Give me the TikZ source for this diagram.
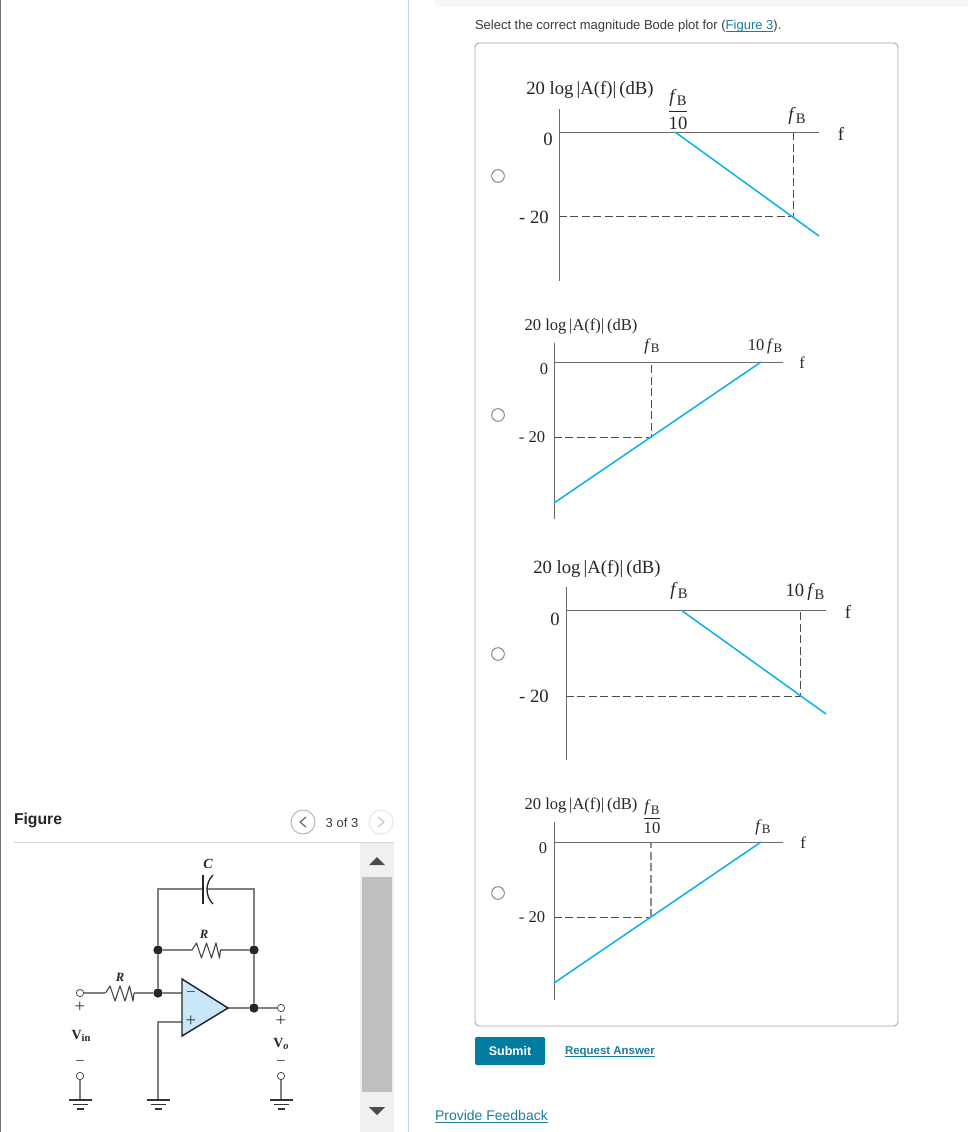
\documentclass[tikz,border=0pt]{standalone}
\usepackage{fontspec}
\setmainfont{Liberation Serif}
\newfontfamily\uifont{Liberation Sans}
\definecolor{linkc}{HTML}{1B7C9E}
\definecolor{btnc}{HTML}{007C9E}
\definecolor{curve}{HTML}{12B0EA}
\definecolor{axisc}{HTML}{6A6A6A}
\definecolor{wirec}{HTML}{808080}
\definecolor{uitext}{HTML}{3A3A3A}
\definecolor{opfill}{HTML}{C8E8FA}
\definecolor{sepc}{HTML}{C4D6E6}
\newcommand{\fsubB}{\textit{f}\raisebox{-0.35ex}{\scalebox{.78}{B}}}
\newcommand{\fracfB}{$\displaystyle\frac{\hbox{\fsubB}}{\hbox{10}}$}
\newcommand{\linktext}[1]{\underline{\smash{#1}}}
\tikzset{
  every node/.style={inner sep=0pt,outer sep=0pt},
  ui/.style={font=\uifont\fontsize{9.75}{11}\selectfont,text=uitext},
  big/.style={font=\fontsize{14}{16}\selectfont,text=black!85},
  small/.style={font=\fontsize{12.4}{14}\selectfont,text=black!85},
  axis/.style={draw=axisc,line width=0.75pt},
  dashline/.style={draw=black!70,line width=0.6pt,dash pattern=on 6pt off 2.6pt},
  bode/.style={draw=curve,line width=1.15pt},
  radio/.style={circle,draw=black!50,fill=white,line width=0.7pt,minimum size=9.5pt},
  wire/.style={draw=wirec,line width=0.9pt},
  dot/.style={circle,fill=black!85,minimum size=7pt},
  term/.style={circle,draw=black!70,fill=white,line width=0.6pt,minimum size=5.5pt},
  clab/.style={font=\fontsize{10.5}{12}\selectfont,text=black!85},
  sign/.style={font=\fontsize{14}{14}\selectfont,text=black!80},
  minus/.style={font=\fontsize{11.5}{12}\selectfont,text=black!80},
  res/.pic={\draw[draw=black!75,line width=0.8pt,line join=round] (-14,0) -- (-9.5,-7) -- (-4.5,8) -- (0.5,-7) -- (5.5,8) -- (10,-7) -- (13.5,8) -- (14.5,0);},
  gnd/.pic={\draw[draw=black!80,line width=1pt] (-11.5,0) -- (11.5,0) (-7.5,4.5) -- (7.5,4.5) (-3.5,9) -- (3.5,9);}
}
\begin{document}
\begin{tikzpicture}[x=0.75pt,y=-0.75pt]
\useasboundingbox (0,0) rectangle (968,1132);
\fill[white] (0,0) rectangle (968,1132);
% page furniture
\fill[black!55] (0,0) rectangle (1.3,1132);
\fill[black!3] (435,0) rectangle (968,7);
\draw[sepc,line width=0.7pt] (408,0) -- (408,1132);
% question
\node[ui,anchor=base west] (question) at (475,29) {Select the correct magnitude Bode plot for (\textcolor{linkc}{\linktext{Figure 3}}).};
\draw[draw=black!35,line width=0.7pt,rounded corners=3pt] (475,43) rectangle (898,1026);
\node[radio] (r1) at (498,176) {};
\node[radio] (r2) at (498,415) {};
\node[radio] (r3) at (498,654) {};
\node[radio] (r4) at (498,893) {};
% plot 1
\coordinate (a1t) at (559,109); \coordinate (a1b) at (559,281);
\coordinate (a1o) at (559,132); \coordinate (a1e) at (819,132);
\coordinate (b1s) at (675,132); \coordinate (b1e) at (819,236);
\coordinate (d1l) at (559,216); \coordinate (d1p) at (793,216); \coordinate (d1t) at (793,132);
\draw[dashline] (d1l) -- (d1p) -- (d1t);
\draw[axis] (a1t) -- (a1b); \draw[axis] (a1o) -- (a1e);
\draw[bode] (b1s) -- (b1e);
\node[big] (t1) at (590,90) {20 log\,|A(f)|\,(dB)};
\node[big] (q1) at (678,109.5) {\fracfB};
\node[big] (q1b) at (797,116) {\fsubB};
\node[big] (f1) at (841,134) {f};
\node[big] (z1) at (548,139) {0};
\node[big] (m1) at (534,217) {- 20};
% plot 2
\coordinate (a2t) at (554,343); \coordinate (a2b) at (554,519);
\coordinate (a2o) at (554,362); \coordinate (a2e) at (783,362);
\coordinate (b2s) at (554,503); \coordinate (b2e) at (761,362);
\coordinate (d2l) at (554,437); \coordinate (d2p) at (651,437); \coordinate (d2t) at (651,362);
\draw[dashline] (d2l) -- (d2p) -- (d2t);
\draw[axis] (a2t) -- (a2b); \draw[axis] (a2o) -- (a2e);
\draw[bode] (b2s) -- (b2e);
\node[small] (t2) at (581,326) {20 log\,|A(f)|\,(dB)};
\node[small] (q2) at (652,346) {\fsubB};
\node[small] (q2b) at (765,346) {10\,\fsubB};
\node[small] (f2) at (802,363) {f};
\node[small] (z2) at (544,369) {0};
\node[small] (m2) at (532,437) {- 20};
% plot 3
\coordinate (a3t) at (566,587); \coordinate (a3b) at (566,760);
\coordinate (a3o) at (566,610); \coordinate (a3e) at (826,610);
\coordinate (b3s) at (681,610); \coordinate (b3e) at (826,714);
\coordinate (d3l) at (566,696); \coordinate (d3p) at (800,696); \coordinate (d3t) at (800,610);
\draw[dashline] (d3l) -- (d3p) -- (d3t);
\draw[axis] (a3t) -- (a3b); \draw[axis] (a3o) -- (a3e);
\draw[bode] (b3s) -- (b3e);
\node[big] (t3) at (597,569) {20 log\,|A(f)|\,(dB)};
\node[big] (q3) at (679,591) {\fsubB};
\node[big] (q3b) at (805,592) {10\,\fsubB};
\node[big] (f3) at (848,612) {f};
\node[big] (z3) at (555,619) {0};
\node[big] (m3) at (534,696) {- 20};
% plot 4
\coordinate (a4t) at (554,822); \coordinate (a4b) at (554,1000);
\coordinate (a4o) at (554,842); \coordinate (a4e) at (783,842);
\coordinate (b4s) at (554,983); \coordinate (b4e) at (761,842);
\coordinate (d4l) at (554,917); \coordinate (d4p) at (651,917); \coordinate (d4t) at (651,842);
\draw[dashline] (d4l) -- (d4p);
\draw[dashline,draw=black!45,line width=0.9pt] (d4p) -- (d4t);
\draw[axis] (a4t) -- (a4b); \draw[axis] (a4o) -- (a4e);
\draw[bode] (b4s) -- (b4e);
\node[small] (t4) at (581,805) {20 log\,|A(f)|\,(dB)};
\node[small] (q4) at (652,817) {\fracfB};
\node[small] (q4b) at (763,827) {\fsubB};
\node[small] (f4) at (803,843) {f};
\node[small] (z4) at (543,848) {0};
\node[small] (m4) at (532,917) {- 20};
% buttons
\node[fill=btnc,rounded corners=1pt,minimum width=52.5pt,minimum height=21pt,font=\uifont\bfseries\fontsize{9.4}{11}\selectfont,text=white] (submit) at (510,1051) {Submit};
\node[ui,anchor=base west,text=linkc,font=\uifont\bfseries\fontsize{8.6}{11}\selectfont] (req) at (565,1054) {\linktext{Request Answer}};
\node[ui,anchor=base west,text=linkc,font=\uifont\fontsize{10.5}{12}\selectfont] (fb) at (435,1120) {\linktext{Provide Feedback}};
% figure header
\node[anchor=base west,font=\uifont\bfseries\fontsize{11.8}{13}\selectfont,text=black!85] (fig) at (14,824) {Figure};
\draw[black!15,line width=0.8pt] (14,842.5) -- (394,842.5);
\node[circle,draw=black!30,line width=0.7pt,minimum size=18pt] (prev) at (303,822) {};
\node[circle,draw=black!10,line width=0.7pt,minimum size=18pt] (next) at (381,822) {};
\draw[black!55,line width=1pt,line join=round] (306,817) -- (300,822) -- (306,827);
\draw[black!20,line width=1pt,line join=round] (378,817) -- (384,822) -- (378,827);
\node[ui] (pg) at (342,823) {3 of 3};
% scroll bar
\fill[black!6] (360,843) rectangle (394,1132);
\fill[black!25] (362,877) rectangle (392,1092);
\fill[black!70] (369,865) -- (385,865) -- (377,857) -- cycle;
\fill[black!70] (369,1107) -- (385,1107) -- (377,1115) -- cycle;
% circuit
\coordinate (tl) at (158,889); \coordinate (tr) at (254,889);
\coordinate (cl) at (203,889); \coordinate (cr) at (207,889);
\node[dot] (n1) at (158,950) {};
\node[dot] (n2) at (254,950) {};
\node[dot] (n3) at (158,993) {};
\node[dot] (n4) at (254,1008) {};
\node[term] (in) at (80,993) {};
\node[term] (out) at (281,1008) {};
\node[term] (inb) at (80,1076) {};
\node[term] (outb) at (281,1076) {};
\coordinate (g1) at (80,1100); \coordinate (g2) at (158,1100); \coordinate (g3) at (281,1100);
\coordinate (oa) at (182,979); \coordinate (ob) at (182,1036); \coordinate (oc) at (228,1008);
\coordinate (im) at (182,993); \coordinate (ip) at (182,1022);
\coordinate (rfl) at (192,950); \coordinate (rfr) at (220,950);
\coordinate (ril) at (105,993); \coordinate (rir) at (134,993);
\draw[wire] (cl) -- (tl) -- (n1) -- (n3);
\draw[wire] (cr) -- (tr) -- (n2) -- (n4);
\draw[wire] (n1) -- (rfl); \draw[wire] (rfr) -- (n2);
\draw[wire] (in) -- (ril); \draw[wire] (rir) -- (n3) -- (im);
\draw[wire] (ip) -| (g2);
\draw[wire] (oc) -- (n4) -- (out);
\draw[wire] (inb) -- (g1); \draw[wire] (outb) -- (g3);
\path (206,950) pic {res}; \path (119.5,993) pic {res};
\path (g1) pic {gnd}; \path (g2) pic {gnd}; \path (g3) pic {gnd};
\draw[black!85,line width=1pt] (203,875) -- (203,904);
\draw[black!85,line width=1pt] (213,875) .. controls (205,883) and (205,896) .. (213,904);
\draw[draw=black!85,fill=opfill,line width=1.1pt,line join=miter] (oa) -- (ob) -- (oc) -- cycle;
\node[minus] (mn) at (191,994) {--};
\node[sign] (pl) at (191,1021) {+};
\node[clab,font=\itshape\bfseries\fontsize{10.5}{12}\selectfont] (cc) at (208,864) {C};
\node[clab,font=\itshape\bfseries\fontsize{9.5}{12}\selectfont] (rf) at (204,934) {R};
\node[clab,font=\itshape\bfseries\fontsize{9.5}{12}\selectfont] (ri) at (120,977) {R};
\node[sign] (p1) at (80,1007) {+};
\node[clab,font=\bfseries\fontsize{10.5}{12}\selectfont] (vin) at (81,1036) {V\raisebox{-0.3ex}{\scalebox{.75}{in}}};
\node[minus] (m1c) at (80,1063) {--};
\node[sign] (p2) at (281,1021) {+};
\node[clab,font=\bfseries\fontsize{10.5}{12}\selectfont] (vo) at (281,1044) {V\raisebox{-0.3ex}{\scalebox{.75}{\textit{o}}}};
\node[minus] (m2c) at (281,1063) {--};
\end{tikzpicture}
\end{document}
